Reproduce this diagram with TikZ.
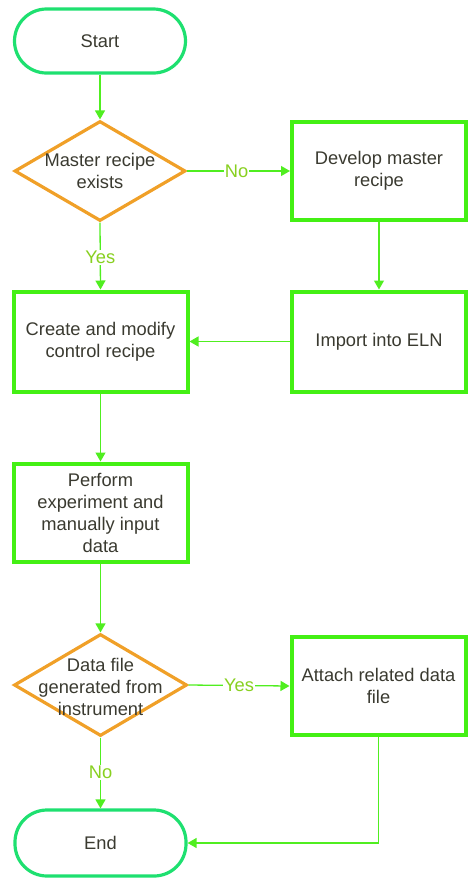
\documentclass[tikz,border=0pt]{standalone}
\usepackage{fontspec}
\setmainfont{Liberation Sans}
\usetikzlibrary{shapes.geometric,arrows.meta}
\definecolor{termc}{HTML}{1EE070}
\definecolor{boxc}{HTML}{44F014}
\definecolor{decc}{HTML}{F0A028}
\definecolor{linec}{HTML}{50EE20}
\definecolor{labc}{HTML}{88D020}
\definecolor{txtc}{HTML}{3A3A30}
\begin{document}
\begin{tikzpicture}[x=1pt,y=1pt,
  every node/.style={font=\fontsize{18.3}{22}\selectfont, text=txtc, align=center},
  term/.style={draw=termc, line width=3.2pt, rounded corners=32pt, minimum width=171pt, minimum height=64pt, inner sep=0pt},
  proc/.style={draw=boxc, line width=4pt, minimum width=174pt, minimum height=98pt, inner sep=0pt},
  dec/.style={draw=decc, line width=3.2pt, diamond, minimum width=171pt, minimum height=100pt, inner sep=0pt},
  conn/.style={draw=linec, line width=1.3pt, -{Triangle[length=9pt,width=10pt]}},
  lab/.style={fill=white, text=labc, inner sep=1pt}]
\useasboundingbox (0,0) rectangle (474,-887);
\node[term] (start) at (100,-41) {Start};
\node[dec] (d1) at (100,-171) {};
\node (d1t) at (d1) {Master recipe\\exists};
\node[proc] (dev) at (379,-171) {Develop master\\recipe};
\node[proc, minimum height=100pt] (imp) at (379,-341.5) {Import into ELN};
\node[proc, minimum height=100pt] (create) at (100.5,-341.5) {Create and modify\\control recipe};
\node[proc] (perf) at (100.5,-512.5) {Perform\\experiment and\\manually input\\data};
\node[dec, minimum height=102pt, minimum width=173pt] (d2) at (100.5,-685) {};
\node (d2t) at ([yshift=-2pt]d2.center) {Data file\\generated from\\instrument};
\node[proc] (att) at (378.5,-686) {Attach related data\\file};
\node[term, minimum height=66pt] (end) at (100.5,-843) {End};
\draw[conn] (start) -- (d1);
\draw[conn] (d1.east) -- node[lab, pos=0.48] {No} (dev.west);
\draw[conn] (d1.south) -- node[lab, pos=0.52] {Yes} (create.north);
\draw[conn] (dev) -- (imp);
\draw[conn] (imp.west) -- (create.east);
\draw[conn] (create) -- (perf);
\draw[conn] (perf.south) -- (d2.north);
\draw[conn] (d2.east) -- node[lab, pos=0.5] {Yes} (att.west);
\draw[conn] (d2.south) -- node[lab, pos=0.49] {No} (end.north);
\draw[conn] (att.south) |- (end.east);
\end{tikzpicture}
\end{document}
